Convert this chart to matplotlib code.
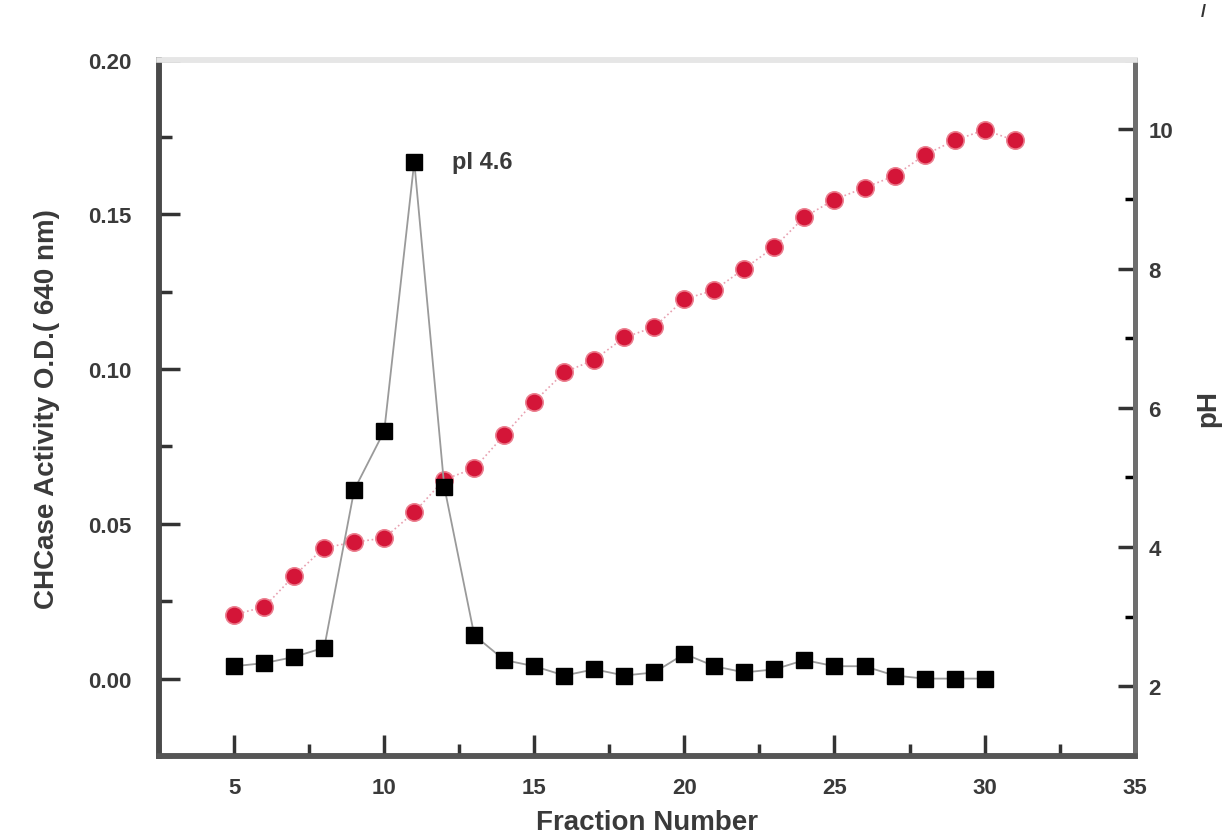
import numpy as np
import matplotlib
matplotlib.use('Agg')
import matplotlib.pyplot as plt
from matplotlib.ticker import MultipleLocator

plt.rcParams['font.family'] = ['Liberation Sans', 'DejaVu Sans']
plt.rcParams['font.weight'] = 'bold'

# activity (left axis)
fractions = [5, 6, 7, 8, 9, 10, 11, 12, 13, 14, 15, 16, 17, 18, 19, 20,
             21, 22, 23, 24, 25, 26, 27, 28, 29, 30]
activity = [0.004, 0.005, 0.007, 0.010, 0.061, 0.080, 0.167, 0.062, 0.014,
            0.006, 0.004, 0.001, 0.003, 0.001, 0.002, 0.008, 0.004, 0.002,
            0.003, 0.006, 0.004, 0.004, 0.001, 0.000, 0.000, 0.000]

# pH (right axis)
ph_fractions = [5, 6, 7, 8, 9, 10, 11, 12, 13, 14, 15, 16, 17, 18, 19, 20,
                21, 22, 23, 24, 25, 26, 27, 28, 29, 30, 31]
ph_values = [3.03, 3.14, 3.59, 3.99, 4.07, 4.13, 4.50, 4.97, 5.13, 5.61,
             6.09, 6.51, 6.69, 7.01, 7.16, 7.56, 7.69, 8.00, 8.31, 8.74,
             8.99, 9.16, 9.33, 9.63, 9.84, 9.99, 9.84]

peak_label = 'pI 4.6'
text_col = '#3a3a3a'


def style_spines(ax):
    ax.spines['left'].set_linewidth(4)
    ax.spines['left'].set_color('#4a4a4a')
    ax.spines['bottom'].set_linewidth(4)
    ax.spines['bottom'].set_color('#555555')
    ax.spines['right'].set_linewidth(3.5)
    ax.spines['right'].set_color('#6e6e6e')
    ax.spines['top'].set_linewidth(4)
    ax.spines['top'].set_color('#e6e6e6')


fig = plt.figure(figsize=(12.24, 8.37), dpi=100)
ax = fig.add_axes([0.130, 0.0956, 0.797, 0.832])
ax2 = ax.twinx()

ax2.plot(ph_fractions, ph_values, linestyle=':', color='#e8a0b0', lw=1.2,
         marker='o', markersize=12.5, markerfacecolor='#d41538',
         markeredgecolor='#ec8090', markeredgewidth=1.2, zorder=2)

ax.plot(fractions, activity, color='#9a9a9a', lw=1.3, marker='s',
        markersize=12, markerfacecolor='black', markeredgecolor='black',
        zorder=3)
ax.set_zorder(ax2.get_zorder() + 1)
ax.patch.set_visible(False)

ax.text(fractions[activity.index(max(activity))] + 1.25, max(activity),
        peak_label, fontsize=17, fontweight='bold', color=text_col,
        va='center', ha='left')

ax.set_xlim(2.5, 35)
ax.set_ylim(-0.025, 0.20)
ax2.set_ylim(1, 11)

ax.xaxis.set_minor_locator(MultipleLocator(2.5))
ax.yaxis.set_minor_locator(MultipleLocator(0.025))
ax2.yaxis.set_minor_locator(MultipleLocator(1))

ax.set_xticks([5, 10, 15, 20, 25, 30, 35])
ax.set_xticklabels(['5', '10', '15', '20', '25', '30', '35'])
ax.set_yticks([0.0, 0.05, 0.10, 0.15, 0.20])
ax.set_yticklabels(['0.00', '0.05', '0.10', '0.15', '0.20'])
ax2.set_yticks([2, 4, 6, 8, 10])

ax.tick_params(axis='both', which='major', direction='in', length=15,
               width=2.5, labelsize=16, colors='#333333', labelcolor=text_col)
ax.tick_params(axis='x', which='major', pad=15)
ax.tick_params(axis='y', which='major', pad=20)
ax.tick_params(axis='both', which='minor', direction='in', length=9,
               width=2.5, colors='#333333')
ax.tick_params(axis='y', which='both', right=False)
ax.tick_params(axis='x', which='both', top=False)
ax2.tick_params(axis='y', which='major', direction='in', length=12,
                width=2.5, labelsize=16, colors='#333333',
                labelcolor=text_col, pad=10)
ax2.tick_params(axis='y', which='minor', direction='in', length=7, width=2.5)

style_spines(ax)
style_spines(ax2)

ax.set_xlabel('Fraction Number', fontsize=20, fontweight='bold',
              color=text_col, labelpad=8)
ax.set_ylabel('CHCase Activity O.D.( 640 nm)', fontsize=20,
              fontweight='bold', color=text_col, labelpad=20)
ax2.set_ylabel('pH', fontsize=20, fontweight='bold', color=text_col,
               labelpad=16)

fig.text(0.983, 0.985, '/', fontsize=13, color='#333333', ha='center',
         va='center')

fig.savefig('out.png', dpi=100)
